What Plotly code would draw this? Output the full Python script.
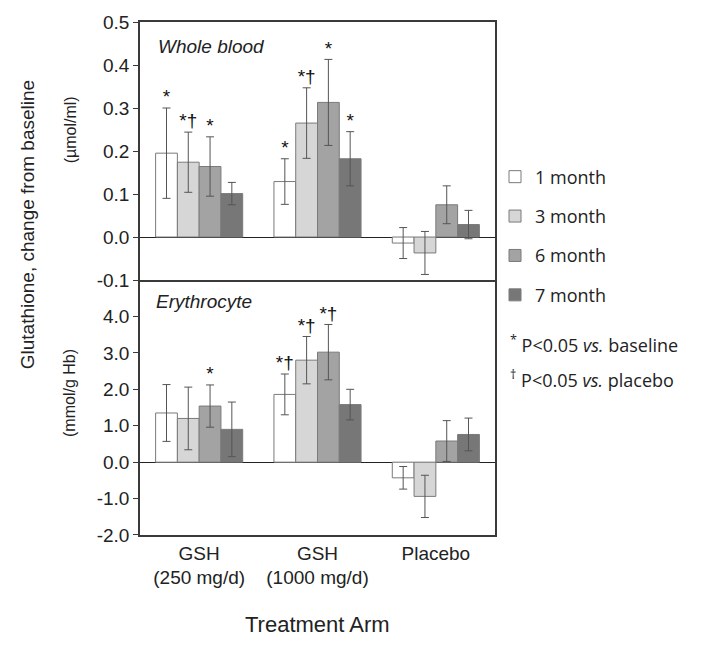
import plotly.graph_objects as go

arms = ["GSH<br>(250 mg/d)", "GSH<br>(1000 mg/d)", "Placebo"]
series = ["1 month", "3 month", "6 month", "7 month"]
colors = ["#ffffff", "#d6d6d6", "#a3a3a3", "#777777"]

# Whole blood (µmol/ml): value per series per arm, and error
wb_vals = [
    [0.195, 0.129, -0.014],
    [0.174, 0.265, -0.037],
    [0.164, 0.313, 0.075],
    [0.101, 0.182, 0.029],
]
wb_err = [
    [0.105, 0.053, 0.036],
    [0.070, 0.082, 0.050],
    [0.069, 0.100, 0.044],
    [0.026, 0.063, 0.033],
]
wb_sig = [
    ["*", "*", ""],
    ["*†", "*†", ""],
    ["*", "*", ""],
    ["", "*", ""],
]

# Erythrocyte (mmol/g Hb)
er_vals = [
    [1.35, 1.86, -0.43],
    [1.20, 2.80, -0.94],
    [1.54, 3.02, 0.58],
    [0.90, 1.58, 0.76],
]
er_err = [
    [0.78, 0.56, 0.31],
    [0.86, 0.65, 0.58],
    [0.58, 0.76, 0.56],
    [0.75, 0.42, 0.45],
]
er_sig = [
    ["", "*†", ""],
    ["", "*†", ""],
    ["*", "*†", ""],
    ["", "", ""],
]

wb_ticks = [-0.1, 0.0, 0.1, 0.2, 0.3, 0.4, 0.5]
er_ticks = [-2.0, -1.0, 0.0, 1.0, 2.0, 3.0, 4.0]

BAR_W = 0.184
FONT = "Liberation Sans"
LEG_FONT = "Open Sans"

fig = go.Figure()

for k, name in enumerate(series):
    off = (k - 1.5) * BAR_W
    xs = [i + off for i in range(len(arms))]
    for vals, errs, sigs, xa, ya, show in [
        (wb_vals, wb_err, wb_sig, "x", "y", True),
        (er_vals, er_err, er_sig, "x2", "y2", False),
    ]:
        fig.add_trace(go.Bar(
            x=xs, y=vals[k], width=BAR_W, name=name,
            marker=dict(color=colors[k], line=dict(color="#7a7a7a", width=1)),
            error_y=dict(type="data", array=errs[k], symmetric=True,
                         color="#555555", thickness=1, width=4),
            xaxis=xa, yaxis=ya, showlegend=show, legendgroup=name,
        ))
        idx = [i for i, s in enumerate(sigs[k]) if s]
        if idx:
            fig.add_trace(go.Scatter(
                x=[xs[i] for i in idx],
                y=[vals[k][i] + errs[k][i] for i in idx],
                mode="text", text=[sigs[k][i] for i in idx], textposition="top center",
                textfont=dict(family=FONT, size=19, color="#111111"),
                xaxis=xa, yaxis=ya, showlegend=False, hoverinfo="skip",
            ))

def axis_common(mirror=True):
    return dict(showline=True, linecolor="#3a3a3a", linewidth=1.5, mirror=mirror,
                showgrid=False, tickfont=dict(family=FONT, size=19, color="#222222"))

fig.update_layout(
    width=720, height=652,
    margin=dict(l=140, r=225, t=22, b=117),
    plot_bgcolor="white", paper_bgcolor="white",
    barmode="overlay",
    showlegend=True,
    legend=dict(x=1.0, xanchor="left", y=0.734, yanchor="top",
                font=dict(family=LEG_FONT, size=18, color="#222222"),
                tracegroupgap=13, itemwidth=30, bgcolor="rgba(0,0,0,0)"),
    xaxis=dict(domain=[0, 1], anchor="y", range=[-0.5, 2.5], showticklabels=False,
               ticks="", **axis_common(True)),
    xaxis2=dict(domain=[0, 1], anchor="y2", range=[-0.5, 2.5], matches="x",
                tickmode="array", tickvals=list(range(len(arms))), ticktext=arms,
                ticks="", **axis_common(False)),
    yaxis=dict(domain=[0.497, 1], anchor="x", range=[-0.1, 0.5],
               tickmode="array", tickvals=wb_ticks, ticktext=[f"{t:.1f}" for t in wb_ticks],
               ticks="outside", ticklen=5, tickcolor="#3a3a3a",
               zeroline=True, zerolinecolor="#222222", zerolinewidth=1.2, **axis_common(True)),
    yaxis2=dict(domain=[0, 0.497], anchor="x2", range=[-2.0, 5.0],
                tickmode="array", tickvals=er_ticks, ticktext=[f"{t:.1f}" for t in er_ticks],
                ticks="outside", ticklen=5, tickcolor="#3a3a3a",
                zeroline=True, zerolinecolor="#222222", zerolinewidth=1.2, **axis_common(True)),
)

ann = [
    dict(text="<i>Whole blood</i>", xref="x domain", yref="y domain", x=0.045, y=0.905,
         xanchor="left", yanchor="middle", font=dict(family=FONT, size=19, color="#222222")),
    dict(text="<i>Erythrocyte</i>", xref="x2 domain", yref="y2 domain", x=0.04, y=0.914,
         xanchor="left", yanchor="middle", font=dict(family=FONT, size=19, color="#222222")),
    dict(text="Glutathione, change from baseline", xref="paper", yref="paper",
         x=-0.318, y=0.604, textangle=-90, xanchor="center", yanchor="middle",
         font=dict(family=FONT, size=19, color="#222222")),
    dict(text="(µmol/ml)", xref="paper", yref="paper", x=-0.197, y=0.789, textangle=-90,
         xanchor="center", yanchor="middle", font=dict(family=FONT, size=16, color="#222222")),
    dict(text="(mmol/g Hb)", xref="paper", yref="paper", x=-0.197, y=0.277, textangle=-90,
         xanchor="center", yanchor="middle", font=dict(family=FONT, size=16, color="#222222")),
    dict(text="Treatment Arm", xref="paper", yref="paper", x=0.5, y=-0.175,
         xanchor="center", yanchor="middle", font=dict(family=FONT, size=22, color="#222222")),
    dict(text="<sup>*</sup> P<0.05 <i>vs.</i> baseline", xref="paper", yref="paper",
         x=1.037, y=0.372, xanchor="left", yanchor="middle",
         font=dict(family=LEG_FONT, size=18, color="#222222")),
    dict(text="<sup>†</sup> P<0.05 <i>vs.</i> placebo", xref="paper", yref="paper",
         x=1.037, y=0.304, xanchor="left", yanchor="middle",
         font=dict(family=LEG_FONT, size=18, color="#222222")),
]
for a in ann:
    a["showarrow"] = False
fig.update_layout(annotations=ann)

fig.write_html("out.html")
